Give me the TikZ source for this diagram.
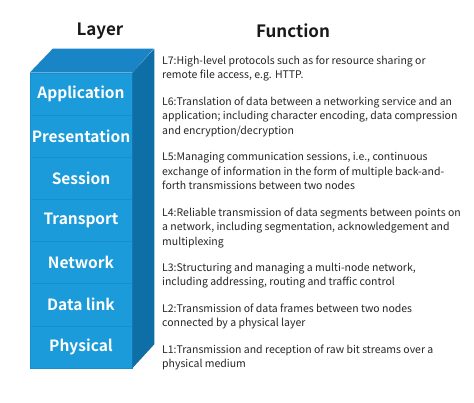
\documentclass[tikz,border=0pt]{standalone}
\usepackage{fontspec}
\setmainfont{Noto Sans CJK SC}[BoldFont={Noto Sans CJK SC Bold}]
\usetikzlibrary{positioning,calc}

\definecolor{frontblue}{HTML}{1B9BD9}
\definecolor{topblue}{HTML}{1984C6}
\definecolor{sideblue}{HTML}{0E6EA6}
\definecolor{lineblue}{HTML}{168FCB}

\tikzset{
  layerbox/.style={fill=frontblue, draw=lineblue, line width=0.6pt,
    minimum width=102pt, minimum height=42.14pt, inner sep=0pt,
    text=white, font=\fontsize{15.5}{18}\selectfont\bfseries},
  title/.style={font=\fontsize{17}{20}\selectfont\bfseries, text=black!90},
  func/.style={align=left, inner sep=0pt,
    font=\fontsize{10.5}{14.5}\selectfont, text=black!85},
}

\begin{document}
\begin{tikzpicture}[x=1pt, y=-1pt]
    \useasboundingbox[fill=white] (0,0) rectangle (474,402);

    % Column titles
    \node[title] (layertitle) at (100,31) {Layer};
    \node[title] (functitle) at (293,31) {Function};

    % Layer stack (front face)
    \foreach \name/\label [count=\i] in {app/Application, pres/Presentation,
        sess/Session, trans/Transport, net/Network, link/Data link, phys/Physical}
      \node[layerbox] (\name) at (81,{73+21.07+(\i-1)*42.14}) {\label};

    % Top and side faces
    \fill[topblue] (app.north west) -- ++(23,-24) -- ++(101,0) -- (app.north east) -- cycle;
    \fill[sideblue] (app.north east) -- ++(22,-24) -- ($(phys.south east)+(22,-24)$) -- (phys.south east) -- cycle;

    % Function descriptions
    \node[func, anchor=north west] (l7) at (162,54) {\strut L7:High-level protocols such as for resource sharing or\\
      remote file access, e.g. HTTP.\strut};
    \node[func, below=11.5pt of l7.south west, anchor=north west] (l6) {\strut L6:Translation of data between a networking service and an\\
      application; including character encoding, data compression\\
      and encryption/decryption\strut};
    \node[func, below=11.5pt of l6.south west, anchor=north west] (l5) {\strut L5:Managing communication sessions, i.e., continuous\\
      exchange of information in the form of multiple back-and-\\
      forth transmissions between two nodes\strut};
    \node[func, below=11.5pt of l5.south west, anchor=north west] (l4) {\strut L4:Reliable transmission of data segments between points on\\
      a network, including segmentation, acknowledgement and\\
      multiplexing\strut};
    \node[func, below=11.5pt of l4.south west, anchor=north west] (l3) {\strut L3:Structuring and managing a multi-node network,\\
      including addressing, routing and traffic control\strut};
    \node[func, below=11.5pt of l3.south west, anchor=north west] (l2) {\strut L2:Transmission of data frames between two nodes\\
      connected by a physical layer\strut};
    \node[func, below=11.5pt of l2.south west, anchor=north west] (l1) {\strut L1:Transmission and reception of raw bit streams over a\\
      physical medium\strut};
\end{tikzpicture}
\end{document}
